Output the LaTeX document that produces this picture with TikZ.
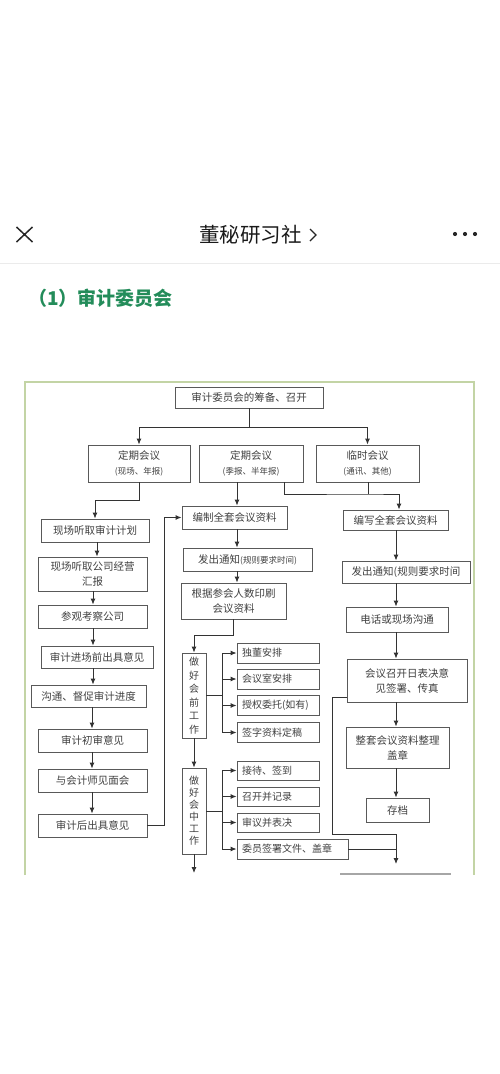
\documentclass[tikz,border=0pt]{standalone}
\usepackage{fontspec}
\setmainfont{Noto Sans CJK SC}
\usetikzlibrary{arrows.meta}
\definecolor{titlegreen}{RGB}{35,140,90}
\definecolor{framegreen}{RGB}{195,212,165}

\begin{document}
\begin{tikzpicture}[x=1pt,y=-1pt,
    box/.style={draw=black!65, line width=0.9pt, inner sep=0pt, align=center, text=black!75, font=\fontsize{10.5}{15}\selectfont},
    subbox/.style={box, align=left, inner xsep=5pt, font=\fontsize{10}{12}\selectfont},
    arr/.style={-{Latex[length=6pt,width=5pt]}, line width=0.9pt, draw=black!80},
    link/.style={line width=0.9pt, draw=black!80}]
    \useasboundingbox (0,0) rectangle (500,1074);

    % Define header
    \draw[line width=1.5pt, black!85] (16.5,227) -- (32.5,242) (32.5,227) -- (16.5,242);
    \node[font=\fontsize{20.5}{24}\selectfont, text=black!90] (brand) at (250.5,235) {董秘研习社};
    \draw[line width=1.3pt, black!85] (310,229) -- (316,235) -- (310,241);
    \foreach \x in {455,465,475} \fill[black!85] (\x,234) circle (2.1pt);
    \draw[black!8, line width=0.8pt] (0,263) -- (500,263);
    \node[anchor=west, inner sep=0pt, font=\bfseries\fontsize{19}{22}\selectfont, text=titlegreen] (title) at (28,298) {（1）审计委员会};

    % Define frame
    \draw[framegreen, line width=1.4pt] (25,875) -- (25,382) -- (474,382) -- (474,875);

    % Define top boxes
    \node[box, minimum width=148pt, minimum height=21pt] (plan) at (249,397.5) {审计委员会的筹备、召开};
    \node[box, minimum width=102pt, minimum height=37pt] (regA) at (139,463.5) {定期会议\\{\fontsize{8.5}{10}\selectfont(现场、年报)}};
    \node[box, minimum width=104pt, minimum height=37pt] (regB) at (251,463.5) {定期会议\\{\fontsize{8.5}{10}\selectfont(季报、半年报)}};
    \node[box, minimum width=103pt, minimum height=37pt] (temp) at (367.5,463.5) {临时会议\\{\fontsize{8.5}{10}\selectfont(通讯、其他)}};

    % Define left column
    \node[box, minimum width=108pt, minimum height=23pt] (l1) at (95,530.5) {现场听取审计计划};
    \node[box, minimum width=109pt, minimum height=34pt] (l2) at (92.5,574) {现场听取公司经营\\汇报};
    \node[box, minimum width=109pt, minimum height=23pt] (l3) at (92.5,616.5) {参观考察公司};
    \node[box, minimum width=112pt, minimum height=22pt] (l4) at (97,657) {审计进场前出具意见};
    \node[box, minimum width=115pt, minimum height=22pt] (l5) at (88.5,696) {沟通、督促审计进度};
    \node[box, minimum width=109pt, minimum height=23pt] (l6) at (92.5,740.5) {审计初审意见};
    \node[box, minimum width=109pt, minimum height=23pt] (l7) at (92.5,780.5) {与会计师见面会};
    \node[box, minimum width=109pt, minimum height=23pt] (l8) at (92.5,825.5) {审计后出具意见};

    % Define middle column
    \node[box, minimum width=105pt, minimum height=23pt] (m1) at (234.5,517.5) {编制全套会议资料};
    \node[box, minimum width=129pt, minimum height=23pt] (m2) at (247.5,559.5) {发出通知{\fontsize{8.5}{10}\selectfont(规则要求时间)}};
    \node[box, minimum width=105pt, minimum height=36pt] (m3) at (233.5,601) {根据参会人数印刷\\会议资料};
    \node[box, minimum width=24pt, minimum height=85pt, font=\fontsize{10}{13.5}\selectfont] (pre) at (194,695.5) {做\\好\\会\\前\\工\\作};
    \node[subbox, text width=72pt, minimum height=20pt] (p1) at (278,653) {独董安排};
    \node[subbox, text width=72pt, minimum height=20pt] (p2) at (278,679) {会议室安排};
    \node[subbox, text width=72pt, minimum height=20pt] (p3) at (278,705.5) {授权委托(如有)};
    \node[subbox, text width=72pt, minimum height=20pt] (p4) at (278,732.5) {签字资料定稿};
    \node[box, minimum width=24pt, minimum height=86pt, font=\fontsize{10}{12}\selectfont] (mid) at (194,811) {做\\好\\会\\中\\工\\作};
    \node[subbox, text width=72pt, minimum height=19pt] (q1) at (278,770.5) {接待、签到};
    \node[subbox, text width=72pt, minimum height=19pt] (q2) at (278,796.5) {召开并记录};
    \node[subbox, text width=72pt, minimum height=19pt] (q3) at (278,822.5) {审议并表决};
    \node[subbox, text width=101pt, minimum height=20pt] (q4) at (292.5,849) {委员签署文件、盖章};

    % Define right column
    \node[box, minimum width=105pt, minimum height=20pt] (r1) at (395.5,520) {编写全套会议资料};
    \node[box, minimum width=128pt, minimum height=22pt] (r2) at (406,572) {发出通知(规则要求时间};
    \node[box, minimum width=102pt, minimum height=25pt] (r3) at (397,619.5) {电话或现场沟通};
    \node[box, minimum width=120pt, minimum height=43pt] (r4) at (407,680.5) {会议召开日表决意\\见签署、传真};
    \node[box, minimum width=103pt, minimum height=41pt] (r5) at (397.5,747.5) {整套会议资料整理\\盖章};
    \node[box, minimum width=63pt, minimum height=24pt] (r6) at (397.5,810) {存档};

    % Draw top edges
    \coordinate (split) at (249,427);
    \draw[link] (plan.south) -- (split);
    \draw[arr] (split) -| (regA.north);
    \draw[arr] (split) -| (temp.north);
    \draw[arr] (regA.south) -- ++(0,18) -| (l1.north);
    \draw[arr] (237,0 |- regB.south) -- (237,0 |- m1.north);
    \coordinate (tj) at (368,494);
    \draw[link] (368,0 |- temp.south) -- (tj);
    \draw[arr] (284,0 |- regB.south) |- (tj) -| (399,0 |- r1.north);

    % Draw left column edges
    \foreach \a/\b/\x in {l1/l2/97, l2/l3/93, l3/l4/93, l4/l5/93, l5/l6/92, l6/l7/92, l7/l8/92}
        \draw[arr] (\x,0 |- \a.south) -- (\x,0 |- \b.north);
    \draw[arr] (l8.east) -- (164,0 |- l8.east) |- (m1.west);

    % Draw middle column edges
    \foreach \a/\b in {m1/m2, m2/m3}
        \draw[arr] (237,0 |- \a.south) -- (237,0 |- \b.north);
    \draw[arr] (233,0 |- m3.south) -- ++(0,16) -| (pre.north);
    \draw[link] (pre.east) -- (222,0 |- pre.east);
    \draw[link] (222,0 |- p1.west) -- (222,0 |- p4.west);
    \foreach \b in {p1,p2,p3,p4}
        \draw[arr] (222,0 |- \b.west) -- (\b.west);
    \draw[arr] (pre.south) -- (mid.north);
    \draw[link] (mid.east) -- (222,0 |- mid.east);
    \draw[link] (222,0 |- q1.west) -- (222,0 |- q4.west);
    \foreach \b in {q1,q2,q3,q4}
        \draw[arr] (222,0 |- \b.west) -- (\b.west);
    \coordinate (midout) at (194,873);
    \draw[arr] (mid.south) -- (midout);

    % Draw right column edges
    \foreach \a/\b in {r1/r2, r2/r3, r3/r4, r4/r5, r5/r6}
        \draw[arr] (396,0 |- \a.south) -- (396,0 |- \b.north);
    \coordinate (rj) at (396,834);
    \coordinate (rout) at (396,864);
    \draw[arr] ([yshift=5pt]r4.south west) -| (332,0 |- rj) -- (rj) -- (rout);
    \draw[link] (q4.east) -- (q4.east -| rj);

    % Cut-off box edge
    \draw[black!35, line width=1.2pt] (340,874) -- (451,874);
\end{tikzpicture}
\end{document}
